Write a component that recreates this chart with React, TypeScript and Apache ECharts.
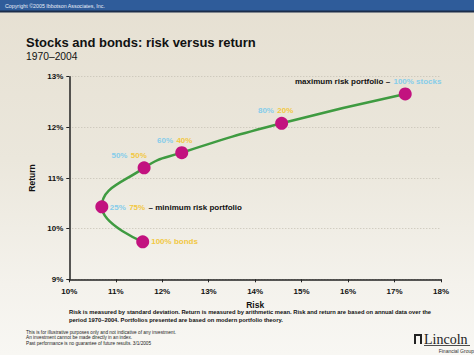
import React, { useEffect, useRef } from "react";
import * as echarts from "echarts";

const portfolios = ["100% bonds", "25% 75%", "50% 50%", "60% 40%", "80% 20%", "100% stocks"];
const riskValues = [11.58, 10.7, 11.61, 12.42, 14.57, 17.23];
const returnValues = [9.74, 10.43, 11.2, 11.5, 12.08, 12.66];
const xTicks = [10, 11, 12, 13, 14, 15, 16, 17, 18];
const yTicks = [9, 10, 11, 12, 13];

const labelFormats = [
  "{y|100% bonds}",
  "{b|25%} {y|75%} {k|– minimum risk portfolio}",
  "{b|50%} {y|50%}",
  "{b|60%} {y|40%}",
  "{b|80%} {y|20%}",
  "{k|maximum risk portfolio –} {b|100% stocks}",
];
const labelPlacement: any[] = [
  { position: "right", distance: 2, offset: [0, 0] },
  { position: "right", distance: 1.5, offset: [0, 1] },
  { position: "top", distance: 0, offset: [-15, 0] },
  { position: "top", distance: 0, offset: [-7, 0] },
  { position: "top", distance: 0, offset: [-6, 0] },
  { position: "top", distance: 0, offset: [-37, 0] },
];

const BLUE = "#86cdea";
const YELLOW = "#f2c843";
const FONT = "'Liberation Sans', Arial, Helvetica, sans-serif";

export default function App() {
  const ref = useRef<HTMLDivElement>(null);
  useEffect(() => {
    if (!ref.current) return;
    const chart = echarts.init(ref.current, undefined, { renderer: "svg" });
    const rich = {
      b: { color: BLUE, fontWeight: "bold", fontSize: 8, fontFamily: FONT },
      y: { color: YELLOW, fontWeight: "bold", fontSize: 8, fontFamily: FONT },
      k: { color: "#111", fontWeight: "bold", fontSize: 8, fontFamily: FONT },
    };
    const data = riskValues.map((r, i) => ({
      value: [r, returnValues[i]],
      name: portfolios[i],
      label: {
        show: true,
        formatter: labelFormats[i],
        rich,
        ...labelPlacement[i],
      },
    }));
    chart.setOption({
      animation: false,
      backgroundColor: "transparent",
      textStyle: { fontFamily: FONT },
      grid: { left: 69.3, right: 33, top: 76.7, bottom: 75.7, containLabel: false },
      xAxis: {
        type: "value",
        min: xTicks[0],
        max: xTicks[xTicks.length - 1],
        interval: 1,
        name: "Risk",
        nameLocation: "middle",
        nameGap: 16.5,
        nameTextStyle: { fontWeight: "bold", fontSize: 8.5, color: "#111", fontFamily: FONT, verticalAlign: "top" },
        axisLine: { lineStyle: { color: "#222", width: 1.5 } },
        axisTick: { length: 3, lineStyle: { color: "#222", width: 1 } },
        axisLabel: {
          formatter: (v: number) => `${v}%`,
          fontWeight: "bold",
          fontSize: 8,
          color: "#111",
          margin: 8.5,
          fontFamily: FONT,
        },
        splitLine: { show: false },
      },
      yAxis: {
        type: "value",
        min: yTicks[0],
        max: yTicks[yTicks.length - 1],
        interval: 1,
        name: "Return",
        nameLocation: "middle",
        nameGap: 27,
        nameTextStyle: { fontWeight: "bold", fontSize: 8.5, color: "#111", fontFamily: FONT },
        axisLine: { show: true, lineStyle: { color: "#222", width: 1.5 } },
        axisTick: { show: true, length: 3, lineStyle: { color: "#222", width: 1 } },
        axisLabel: {
          formatter: (v: number) => `${v}%`,
          fontWeight: "bold",
          fontSize: 8,
          color: "#111",
          margin: 6,
          fontFamily: FONT,
        },
        splitLine: { show: true, lineStyle: { color: "#c4bfb3", type: [1, 2], width: 1 } },
      },
      series: [
        {
          type: "line",
          data,
          smooth: 0.5,
          symbol: "circle",
          symbolSize: 13,
          showSymbol: true,
          itemStyle: { color: "#c2127f" },
          lineStyle: { color: "#3f9b41", width: 2.5 },
          z: 3,
        },
      ],
      graphic: [
        { type: "rect", shape: { x: 0, y: 0, width: 474, height: 11 }, style: { fill: "#2f5c9a" } },
        { type: "rect", shape: { x: 0, y: 10.5, width: 474, height: 2 }, style: { fill: "#1b2d4a" } },
        {
          type: "text",
          x: 5,
          y: 6,
          style: { text: "Copyright ©2005 Ibbotson Associates, Inc.", font: `5.3px ${FONT}`, fill: "#e8eef8", verticalAlign: "middle" },
        },
        {
          type: "text",
          x: 26,
          y: 42,
          style: { text: "Stocks and bonds: risk versus return", font: `bold 13px ${FONT}`, fill: "#111", verticalAlign: "middle" },
        },
        {
          type: "text",
          x: 26,
          y: 56,
          style: { text: "1970–2004", font: `10.3px ${FONT}`, fill: "#111", verticalAlign: "middle" },
        },
        {
          type: "text",
          x: 69,
          y: 312,
          style: {
            text: "Risk is measured by standard deviation. Return is measured by arithmetic mean. Risk and return are based on annual data over the",
            font: `bold 5.8px ${FONT}`,
            fill: "#111",
            verticalAlign: "middle",
          },
        },
        {
          type: "text",
          x: 69,
          y: 319.5,
          style: {
            text: "period 1970–2004. Portfolios presented are based on modern portfolio theory.",
            font: `bold 5.8px ${FONT}`,
            fill: "#111",
            verticalAlign: "middle",
          },
        },
        {
          type: "text",
          x: 26,
          y: 332.3,
          style: { text: "This is for illustrative purposes only and not indicative of any investment.", font: `4.7px ${FONT}`, fill: "#222", verticalAlign: "middle" },
        },
        {
          type: "text",
          x: 26,
          y: 337.7,
          style: { text: "An investment cannot be made directly in an index.", font: `4.7px ${FONT}`, fill: "#222", verticalAlign: "middle" },
        },
        {
          type: "text",
          x: 26,
          y: 343,
          style: { text: "Past performance is no guarantee of future results. 3/1/2005", font: `4.7px ${FONT}`, fill: "#222", verticalAlign: "middle" },
        },
        {
          type: "polyline",
          shape: { points: [[415, 344], [415, 335], [421, 335], [421, 344]] },
          style: { stroke: "#222", lineWidth: 2, fill: "none" },
        },
        {
          type: "text",
          x: 424,
          y: 339.5,
          style: { text: "Lincoln", font: `14px 'Liberation Serif', 'Times New Roman', serif`, fill: "#222", verticalAlign: "middle" },
        },
        { type: "line", shape: { x1: 424, y1: 345.5, x2: 470, y2: 345.5 }, style: { stroke: "#222", lineWidth: 0.8 } },
        {
          type: "text",
          x: 474,
          y: 350.5,
          style: { text: "Financial Group", font: `5px ${FONT}`, fill: "#333", verticalAlign: "middle", align: "right" },
        },
      ],
    });
    return () => chart.dispose();
  }, []);
  return (
    <div
      ref={ref}
      style={{
        position: "fixed",
        left: 0,
        top: 0,
        width: 474,
        height: 355,
        background: "linear-gradient(to bottom, #e6e0d2 0%, #ebe7dc 45%, #f4f2ec 80%, #f8f7f3 100%)",
      }}
    />
  );
}
